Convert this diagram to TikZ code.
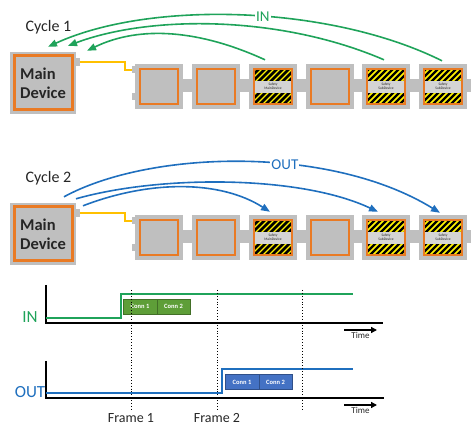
\documentclass[tikz,border=0pt]{standalone}
\usepackage{fontspec}
\setmainfont{Carlito}
\usepackage{tikz}
\usetikzlibrary{arrows.meta,positioning,calc}
\definecolor{modgray}   {HTML}{BFBFBF}
\definecolor{modorange} {HTML}{E97A24}
\definecolor{hazyellow} {HTML}{FFF200}
\definecolor{hazgray}   {HTML}{D4D4D4}
\definecolor{linkyellow}{HTML}{FFC000}
\definecolor{ingreen}   {HTML}{1FA35A}
\definecolor{outblue}   {HTML}{1F6FBE}
\definecolor{conngreen} {HTML}{5E9E38}
\definecolor{connblue}  {HTML}{4472C4}
\definecolor{textgray}  {HTML}{262626}
\newcommand{\hazardfill}[3]{%
  \coordinate (hzNW) at (path picture bounding box.north west);
  \coordinate (hzSE) at (path picture bounding box.south east);
  \fill[#1] ([shift={(5pt,-5pt)}]hzNW) rectangle ([shift={(-5pt,5pt)}]hzSE);
  \begin{scope}
    \clip ([shift={(5pt,-5pt)}]hzNW) rectangle ([shift={(-5pt,5pt)}]hzSE);
    \foreach \k in {-56,-50,...,94}
      \draw[#2,line width=#3] ([shift={(\k pt,-50pt)}]hzNW) -- ++(50pt,50pt);
  \end{scope}
  \fill[hazgray] ([shift={(5pt,-17pt)}]hzNW) rectangle ([shift={(-5pt,16pt)}]hzSE);
  \draw[modorange,line width=2.5pt] ([shift={(5pt,-5pt)}]hzNW) rectangle ([shift={(-5pt,5pt)}]hzSE);
}
\tikzset{
  modshape/.style  ={rectangle, fill=modgray, minimum width=48pt, minimum height=45pt,
                     inner sep=0pt},
  modbox/.style    ={modshape, path picture={\draw[modorange,line width=2.5pt]
                     ([shift={(5pt,-5pt)}]path picture bounding box.north west) rectangle
                     ([shift={(-5pt,5pt)}]path picture bounding box.south east);}},
  safemain/.style  ={modshape, align=center, text=textgray,
                     font=\fontsize{3.6}{4}\selectfont,
                     path picture={\hazardfill{black}{hazyellow}{1.3pt}}},
  safesub/.style   ={modshape, align=center, text=textgray,
                     font=\fontsize{3.6}{4}\selectfont,
                     path picture={\hazardfill{hazyellow}{black}{2.2pt}}},
  maindev/.style   ={rectangle, fill=modgray, minimum width=66pt, minimum height=62pt,
                     inner sep=0pt, align=left, text=textgray,
                     font=\fontsize{16.5}{19}\selectfont\bfseries,
                     path picture={\draw[modorange,line width=3pt]
                     ([shift={(4pt,-4pt)}]path picture bounding box.north west) rectangle
                     ([shift={(-4pt,4pt)}]path picture bounding box.south east);}},
  devtab/.style    ={rectangle, fill=modgray, minimum width=4pt, minimum height=8pt,
                     inner sep=0pt},
  busbar/.style    ={rectangle, fill=modgray, minimum width=336pt, minimum height=13pt,
                     inner sep=0pt},
  yellowline/.style={draw=linkyellow, line width=1.8pt},
  inarrow/.style   ={draw=ingreen, line width=1.6pt, -{Triangle[length=9pt,width=7pt]}},
  outarrow/.style  ={draw=outblue, line width=1.6pt, -{Triangle[length=9pt,width=7pt]}},
  curvelabel/.style={fill=white, inner sep=1pt, font=\fontsize{15}{15}\selectfont},
  cyclelabel/.style={anchor=west, text=textgray, font=\fontsize{16}{16}\selectfont},
  axisline/.style  ={draw=black, line width=1.3pt},
  insig/.style     ={draw=ingreen, line width=2.2pt},
  outsig/.style    ={draw=outblue, line width=2.2pt},
  connin/.style    ={draw=conngreen!70!black, fill=conngreen, text=white, inner sep=0pt,
                     minimum height=15pt, font=\fontsize{6.5}{7}\selectfont\bfseries},
  connout/.style   ={draw=connblue!70!black, fill=connblue, text=white, inner sep=0pt,
                     minimum height=15pt, font=\fontsize{6.5}{7}\selectfont\bfseries},
  siglabel/.style  ={font=\fontsize{17}{17}\selectfont},
  timearrow/.style ={line width=1.3pt, -{Triangle[length=6pt,width=6pt]}},
  timelabel/.style ={text=textgray, font=\fontsize{9}{9}\selectfont, inner sep=1pt},
  frameline/.style ={dotted, line width=0.9pt},
  framelabel/.style={text=textgray, font=\fontsize{14}{14}\selectfont},
}
\begin{document}
\begin{tikzpicture}[x=1pt,y=-1pt]
    \useasboundingbox (0,0) rectangle (474,430);

    % Cycle 1: inputs read back to the main device
    \node[cyclelabel] (cyc1) at (22,27) {Cycle 1};
    \node[busbar]   (bus1)   at (303,86) {};
    \node[maindev]  (md1)    at (43,83)  {Main\\Device};
    \node[devtab]   (md1tab) at (78,62)  {};
    \node[devtab,minimum width=3.5pt,minimum height=7pt] (in1a) at (133.5,70) {};
    \node[devtab,minimum width=3.5pt,minimum height=7pt] (in1b) at (133.5,97) {};
    \node[modbox]   (m11) at (159,86.5) {};
    \node[modbox]   (m12) at (216,86.5) {};
    \node[safemain] (m13) at (273,86.5) {Safety\\MainDevice};
    \node[modbox]   (m14) at (330,86.5) {};
    \node[safesub]  (m15) at (386,86.5) {Safety\\SubDevice};
    \node[safesub]  (m16) at (443,86.5) {Safety\\SubDevice};

    \draw[yellowline] (md1tab.east) -- ++(45,0) |- (in1a.west);

    \draw[inarrow] ([shift={(-1pt,3pt)}]m16.north) .. controls (330,5) and (150,0) ..
                   ([shift={(5pt,5pt)}]md1.north)
                   node[pos=0.45,curvelabel,text=ingreen] (inlbl) {IN};
    \draw[inarrow] ([shift={(-2pt,4pt)}]m15.north) .. controls (280,15) and (150,15) ..
                   ([shift={(25pt,6pt)}]md1.north);
    \draw[inarrow] ([shift={(-8pt,4pt)}]m13.north) .. controls (200,30) and (140,25) ..
                   ([shift={(44pt,1pt)}]md1.north);

    % Cycle 2: outputs sent from the main device
    \node[cyclelabel] (cyc2) at (22,178) {Cycle 2};
    \node[busbar]   (bus2)   at (303,237) {};
    \node[maindev]  (md2)    at (43,234) {Main\\Device};
    \node[devtab]   (md2tab) at (78,213) {};
    \node[devtab,minimum width=3.5pt,minimum height=7pt] (in2a) at (133.5,221) {};
    \node[devtab,minimum width=3.5pt,minimum height=7pt] (in2b) at (133.5,248) {};
    \node[modbox]   (m21) at (159,237.5) {};
    \node[modbox]   (m22) at (216,237.5) {};
    \node[safemain] (m23) at (273,237.5) {Safety\\MainDevice};
    \node[modbox]   (m24) at (330,237.5) {};
    \node[safesub]  (m25) at (386,237.5) {Safety\\SubDevice};
    \node[safesub]  (m26) at (443,237.5) {Safety\\SubDevice};

    \draw[yellowline] (md2tab.east) -- ++(45,0) |- (in2a.west);

    \draw[outarrow] ([shift={(21pt,6pt)}]md2.north) .. controls (150,150) and (330,145) ..
                    ([shift={(-3pt,2pt)}]m26.north)
                    node[pos=0.6,curvelabel,text=outblue] (outlbl) {OUT};
    \draw[outarrow] ([shift={(33pt,4pt)}]md2.north) .. controls (160,175) and (300,175) ..
                    ([shift={(-8pt,3pt)}]m25.north);
    \draw[outarrow] ([shift={(40pt,-3pt)}]md2.north) .. controls (150,180) and (220,180) ..
                    ([shift={(-3pt,3pt)}]m23.north);

    % timing: IN
    \node[siglabel,text=ingreen] (insl) at (30,317) {IN};
    \coordinate (inorig) at (46,323);
    \draw[axisline] (46,285) -- (inorig) -- (383,323);
    \draw[insig] (46,318) -| (121,294) -- (353,294);
    \node[connin,minimum width=34pt] (cin1) at (140,306.5) {Conn 1};
    \node[connin,minimum width=33pt] (cin2) at (173.5,306.5) {Conn 2};
    \coordinate (tin) at (344,330);
    \draw[timearrow] (tin) -- ++(33,0) node[midway,below=1pt,timelabel] (tinlbl) {Time};

    % timing: OUT
    \node[siglabel,text=outblue] (outsl) at (30,392) {OUT};
    \coordinate (outorig) at (46,398);
    \draw[axisline] (46,361) -- (outorig) -- (384,398);
    \draw[outsig] (46,393) -| (222,369) -- (353,369);
    \node[connout,minimum width=34pt] (cout1) at (242,382) {Conn 1};
    \node[connout,minimum width=33pt] (cout2) at (275.5,382) {Conn 2};
    \coordinate (tout) at (344,405);
    \draw[timearrow] (tout) -- ++(33,0) node[midway,below=1pt,timelabel] (toutlbl) {Time};

    % frame markers
    \coordinate (f1) at (131,290);
    \coordinate (f2) at (217,290);
    \coordinate (f3) at (302,290);
    \draw[frameline] (f1) -- ++(0,120);
    \draw[frameline] (f2) -- ++(0,120);
    \draw[frameline] (f3) -- ++(0,120);
    \node[framelabel] (fl1) at (131,418) {Frame 1};
    \node[framelabel] (fl2) at (217,418) {Frame 2};
\end{tikzpicture}
\end{document}
